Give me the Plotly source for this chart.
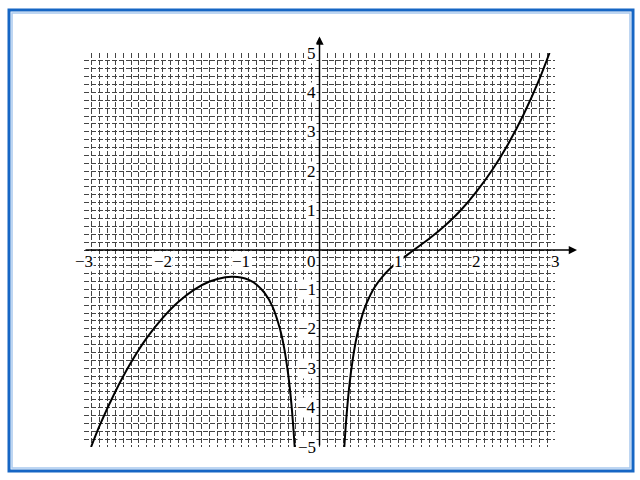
import plotly.graph_objects as go

# ---- data ----
left_x = [-2.91, -2.80, -2.60, -2.40, -2.20, -2.00, -1.80, -1.60, -1.40, -1.20, -1.10, -1.00, -0.90, -0.80, -0.70, -0.60, -0.50, -0.45, -0.40, -0.37, -0.35, -0.33, -0.316]
left_y = [-5.00, -4.45, -3.59, -2.85, -2.23, -1.73, -1.32, -1.01, -0.80, -0.69, -0.68, -0.70, -0.76, -0.88, -1.09, -1.43, -2.03, -2.49, -3.14, -3.66, -4.09, -4.60, -5.00]

right_x = [0.316, 0.33, 0.35, 0.38, 0.42, 0.46, 0.50, 0.55, 0.60, 0.70, 0.80, 0.90, 1.00, 1.10, 1.20, 1.40, 1.60, 1.80, 2.00, 2.20, 2.40, 2.60, 2.80, 2.93]
right_y = [-5.00, -4.58, -4.07, -3.45, -2.82, -2.34, -1.98, -1.62, -1.35, -0.95, -0.68, -0.47, -0.30, -0.15, 0.00, 0.29, 0.62, 1.01, 1.48, 2.03, 2.68, 3.44, 4.33, 5.00]

x_tick_vals = [-3, -2, -1, 1, 2, 3]
x_tick_text = ["\u22123", "\u22122", "\u22121", "1", "2", "3"]
y_tick_vals = [5, 4, 3, 2, 1, -1, -2, -3, -4, -5]
y_tick_text = ["5", "4", "3", "2", "1", "\u22121", "\u22122", "\u22123", "\u22124", "\u22125"]
origin_text = "0"

X_RANGE = [-3, 3]
Y_RANGE = [-5, 5]

FONT = "Liberation Serif"
LABEL_SIZE = 17

W, H = 640, 480
ML, MR, MT, MB = 84, 85, 53, 33

fig = go.Figure()

for xs, ys in [(left_x, left_y), (right_x, right_y)]:
    fig.add_trace(go.Scatter(x=xs, y=ys, mode="lines",
                             line=dict(color="black", width=2, shape="spline", smoothing=0.8),
                             hoverinfo="skip", showlegend=False, cliponaxis=True))

grid_common = dict(showgrid=True, gridcolor="#444444", gridwidth=1, griddash="5px,2px",
                   zeroline=False, showline=False, showticklabels=False, ticks="", fixedrange=True)

fig.update_xaxes(range=X_RANGE, tick0=-3, dtick=0.1, **grid_common)
fig.update_yaxes(range=Y_RANGE, tick0=-5, dtick=0.2, **grid_common)

annotations = []
# axes with arrows
annotations.append(dict(x=3.28, y=0, ax=X_RANGE[0], ay=0, xref="x", yref="y", axref="x", ayref="y",
                        text="", showarrow=True, arrowhead=2, arrowsize=1.1, arrowwidth=1.5,
                        arrowcolor="black", standoff=0, startstandoff=0))
annotations.append(dict(x=0, y=5.42, ax=0, ay=Y_RANGE[0], xref="x", yref="y", axref="x", ayref="y",
                        text="", showarrow=True, arrowhead=2, arrowsize=1.1, arrowwidth=1.5,
                        arrowcolor="black", standoff=0, startstandoff=0))
# axis names
annotations.append(dict(x=3.28, y=0, xref="x", yref="y", text="<i>x</i>", showarrow=False,
                        xanchor="left", yanchor="middle", xshift=-1, yshift=1,
                        font=dict(family=FONT, size=17, color="black")))
annotations.append(dict(x=0, y=5.42, xref="x", yref="y", text="<i>y</i>", showarrow=False,
                        xanchor="center", yanchor="bottom", yshift=-1,
                        font=dict(family=FONT, size=17, color="black")))
# tick labels
for v, t in zip(x_tick_vals, x_tick_text):
    annotations.append(dict(x=v, y=0, xref="x", yref="y", text=t, showarrow=False,
                            xanchor="center", yanchor="top", yshift=-1,
                            bgcolor="white", borderpad=0,
                            font=dict(family=FONT, size=LABEL_SIZE, color="black")))
for v, t in zip(y_tick_vals, y_tick_text):
    annotations.append(dict(x=0, y=v, xref="x", yref="y", text=t, showarrow=False,
                            xanchor="right", yanchor="middle", xshift=-3,
                            bgcolor="white", borderpad=0,
                            font=dict(family=FONT, size=LABEL_SIZE, color="black")))
annotations.append(dict(x=0, y=0, xref="x", yref="y", text=origin_text, showarrow=False,
                        xanchor="right", yanchor="top", xshift=-3, yshift=-1,
                        bgcolor="white", borderpad=0,
                        font=dict(family=FONT, size=LABEL_SIZE, color="black")))

# blue frame around the whole picture (decoration, in paper coords)
pw = W - ML - MR
ph = H - MT - MB
def px(xp):
    return (xp - ML) / pw
def py(yp):
    return 1 - (yp - MT) / ph

shapes = [
    dict(type="rect", xref="paper", yref="paper", x0=px(9), x1=px(633), y0=py(471), y1=py(10),
         line=dict(color="#1666c4", width=3), layer="above"),
    dict(type="rect", xref="paper", yref="paper", x0=px(12), x1=px(630), y0=py(468), y1=py(13),
         line=dict(color="#a9c9ee", width=1.5), layer="above"),
]

fig.update_layout(width=W, height=H, margin=dict(l=ML, r=MR, t=MT, b=MB),
                  paper_bgcolor="white", plot_bgcolor="white",
                  annotations=annotations, shapes=shapes, showlegend=False)

fig.write_html("out.html", config={"displayModeBar": False},
               post_script="document.body.style.margin='0';document.body.style.overflow='hidden';")
